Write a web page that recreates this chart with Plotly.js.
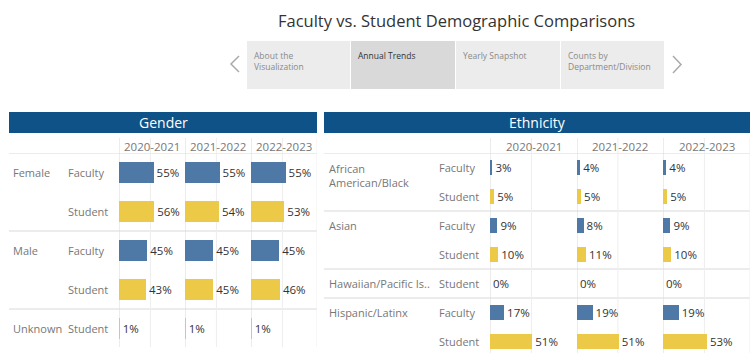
<!DOCTYPE html>
<html><head><meta charset="utf-8">
<script src="https://cdn.plot.ly/plotly-3.0.1.min.js"></script>
<style>html,body{margin:0;padding:0;background:#fff}#chart{width:755px;height:353px}</style>
</head><body><div id="chart"></div>
<script>
// ---- data ----
const years = ['2020-2021', '2021-2022', '2022-2023'];
const tabs = ['About the<br>Visualization', 'Annual Trends', 'Yearly Snapshot', 'Counts by<br>Department/Division'];
const activeTab = 'Annual Trends';

const genderGroups = ['Female', 'Female', 'Male', 'Male', 'Unknown'];
const genderRoles  = ['Faculty', 'Student', 'Faculty', 'Student', 'Student'];
const gender2020 = [0.55, 0.56, 0.45, 0.43, 0.01];
const gender2021 = [0.55, 0.54, 0.45, 0.45, 0.01];
const gender2022 = [0.55, 0.53, 0.45, 0.46, 0.01];

const ethGroups = ['African American/Black', 'African American/Black', 'Asian', 'Asian',
                   'Hawaiian/Pacific Is..', 'Hispanic/Latinx', 'Hispanic/Latinx'];
const ethRoles  = ['Faculty', 'Student', 'Faculty', 'Student', 'Student', 'Faculty', 'Student'];
const eth2020 = [0.03, 0.05, 0.09, 0.10, 0.00, 0.17, 0.51];
const eth2021 = [0.04, 0.05, 0.08, 0.11, 0.00, 0.19, 0.51];
const eth2022 = [0.04, 0.05, 0.09, 0.10, 0.00, 0.19, 0.53];
const ethGroupLabels = {'African American/Black': 'African<br>American/Black'};

// ---- styling ----
const roleColors = {Faculty: '#4e79a7', Student: '#edc948'};
const W = 755, H = 353;
const FONT = 'Open Sans, sans-serif';
const px = v => v / W;
const py = v => 1 - v / H;
const LINE = '#d9d9d9', GRID = '#eeeeee', HEADBG = '#0f5288';
const LBL = 11, VAL = 11.5;

const keys = (g, r) => g.map((x, i) => x + ' | ' + r[i]);
const gKeys = keys(genderGroups, genderRoles);
const eKeys = keys(ethGroups, ethRoles);

const panels = [
  {keys: gKeys, groups: genderGroups, roles: genderRoles, series: [gender2020, gender2021, gender2022],
   cols: [[119, 185], [185, 251], [251, 317]], left: 9, right: 317, yaxis: 'y', axStart: 1,
   groupX: 11, roleX: 66, bottom: 347, title: 'Gender'},
  {keys: eKeys, groups: ethGroups, roles: ethRoles, series: [eth2020, eth2021, eth2022],
   cols: [[490, 577], [577, 663], [663, 750]], left: 324, right: 750, yaxis: 'y2', axStart: 4,
   groupX: 327, roleX: 437, bottom: 353, title: 'Ethnicity'}
];

const data = [], shapes = [], annotations = [];
const layout = {
  width: W, height: H, margin: {l: 0, r: 0, t: 0, b: 0},
  paper_bgcolor: '#fff', plot_bgcolor: 'rgba(0,0,0,0)',
  font: {family: FONT, size: 12, color: '#666'},
  showlegend: false, hovermode: false, bargap: 0
};

// Title
annotations.push({text: 'Faculty vs. Student Demographic Comparisons', xref: 'paper', yref: 'paper',
  x: px(456), y: py(20), xanchor: 'center', yanchor: 'middle', showarrow: false,
  font: {size: 16.5, color: '#333', family: FONT}});

// Tabs
const tabX = [[247, 350], [351, 455], [456, 560], [561, 664]];
tabs.forEach((t, i) => {
  const active = t === activeTab;
  shapes.push({type: 'rect', xref: 'paper', yref: 'paper', x0: px(tabX[i][0]), x1: px(tabX[i][1]),
    y0: py(41), y1: py(89), fillcolor: active ? '#d9d9d9' : '#ececec', line: {width: 0}, layer: 'below'});
  annotations.push({text: t, xref: 'paper', yref: 'paper', x: px(tabX[i][0] + 5), y: py(48),
    xanchor: 'left', yanchor: 'top', align: 'left', showarrow: false,
    font: {size: 8.5, color: active ? '#333' : '#8a8a8a', family: FONT}});
});
shapes.push({type: 'path', xref: 'paper', yref: 'paper',
  path: `M ${px(239)} ${py(56)} L ${px(231)} ${py(64)} L ${px(239)} ${py(72)}`, line: {color: '#aaaaaa', width: 1.5}});
shapes.push({type: 'path', xref: 'paper', yref: 'paper',
  path: `M ${px(673)} ${py(56)} L ${px(681)} ${py(64.5)} L ${px(673)} ${py(73)}`, line: {color: '#aaaaaa', width: 1.5}});

panels.forEach(p => {
  const n = p.keys.length;
  const yax = p.yaxis === 'y' ? 'yaxis' : 'yaxis2';
  const rowH = p.yaxis === 'y' ? 39 : 29;
  const domTop = 153, domBot = p.bottom;
  layout[yax] = {domain: [py(domBot), py(domTop)], type: 'category', categoryarray: p.keys,
    range: [-0.5 + (domBot - domTop) / rowH, -0.5], showticklabels: false, showgrid: false,
    zeroline: false, showline: false, ticks: '', fixedrange: true, anchor: 'x' + p.axStart};

  // header bar
  shapes.push({type: 'rect', xref: 'paper', yref: 'paper', x0: px(p.left), x1: px(p.right),
    y0: py(133), y1: py(112), fillcolor: HEADBG, line: {width: 0}, layer: 'below'});
  annotations.push({text: p.title, xref: 'paper', yref: 'paper', x: px((p.left + p.right) / 2), y: py(122.5),
    xanchor: 'center', yanchor: 'middle', showarrow: false, font: {size: 14, color: '#fff', family: FONT}});

  // horizontal group separators (derived from categories)
  const bounds = [-0.5];
  for (let i = 1; i < n; i++) if (p.groups[i] !== p.groups[i - 1]) bounds.push(i - 0.5);
  bounds.push(n - 0.5);
  bounds.forEach(b => shapes.push({type: 'line', xref: 'paper', yref: p.yaxis, x0: px(p.left), x1: px(p.right),
    y0: b, y1: b, line: {color: LINE, width: 1}, layer: 'below'}));

  // group and role labels
  p.groups.forEach((g, i) => {
    if (i === 0 || g !== p.groups[i - 1]) {
      const lbl = ethGroupLabels[g] || g;
      const lines = lbl.split('<br>').length;
      annotations.push({text: lbl, xref: 'paper', yref: p.yaxis, x: px(p.groupX), y: p.keys[i],
        xanchor: 'left', yanchor: 'middle', align: 'left', yshift: -7.5 * (lines - 1), showarrow: false,
        font: {size: LBL, color: '#777', family: FONT}});
    }
    annotations.push({text: p.roles[i], xref: 'paper', yref: p.yaxis, x: px(p.roleX), y: p.keys[i],
      xanchor: 'left', yanchor: 'middle', showarrow: false, font: {size: LBL, color: '#777', family: FONT}});
  });

  p.series.forEach((vals, c) => {
    const axN = p.axStart + c;
    const xName = 'x' + axN;
    const xaxKey = 'xaxis' + axN;
    layout[xaxKey] = {domain: [px(p.cols[c][0]), px(p.cols[c][1])], range: [0, 1.05], anchor: p.yaxis,
      showticklabels: false, showgrid: false, zeroline: false, showline: false, ticks: '', fixedrange: true};
    // column header
    annotations.push({text: years[c], xref: 'paper', yref: 'paper', x: px((p.cols[c][0] + p.cols[c][1]) / 2),
      y: py(146), xanchor: 'center', yanchor: 'middle', showarrow: false,
      font: {size: 11.5, color: '#777', family: FONT}});
    // column divider + mid gridline
    shapes.push({type: 'line', xref: xName, yref: 'paper', x0: 0, x1: 0, y0: py(138), y1: py(p.bottom),
      line: {color: LINE, width: 1}, layer: 'below'});
    shapes.push({type: 'line', xref: xName, yref: 'paper', x0: 0.5, x1: 0.5, y0: py(138), y1: py(p.bottom),
      line: {color: GRID, width: 1}, layer: 'below'});
    if (c === p.series.length - 1) {
      shapes.push({type: 'line', xref: xName, yref: 'paper', x0: 1.05, x1: 1.05, y0: py(138), y1: py(p.bottom),
        line: {color: GRID, width: 1}, layer: 'below'});
    }
    data.push({type: 'bar', orientation: 'h', x: vals, y: p.keys, xaxis: xName, yaxis: p.yaxis,
      width: 0.52, marker: {color: p.roles.map(r => roleColors[r]), line: {width: 0}},
      texttemplate: '%{x:.0%}', textposition: 'outside', cliponaxis: false, constraintext: 'none',
      textfont: {size: VAL, color: '#333', family: FONT}, hoverinfo: 'skip'});
  });
});

layout.shapes = shapes;
layout.annotations = annotations;
Plotly.newPlot('chart', data, layout, {displayModeBar: false, staticPlot: true});
</script></body></html>
